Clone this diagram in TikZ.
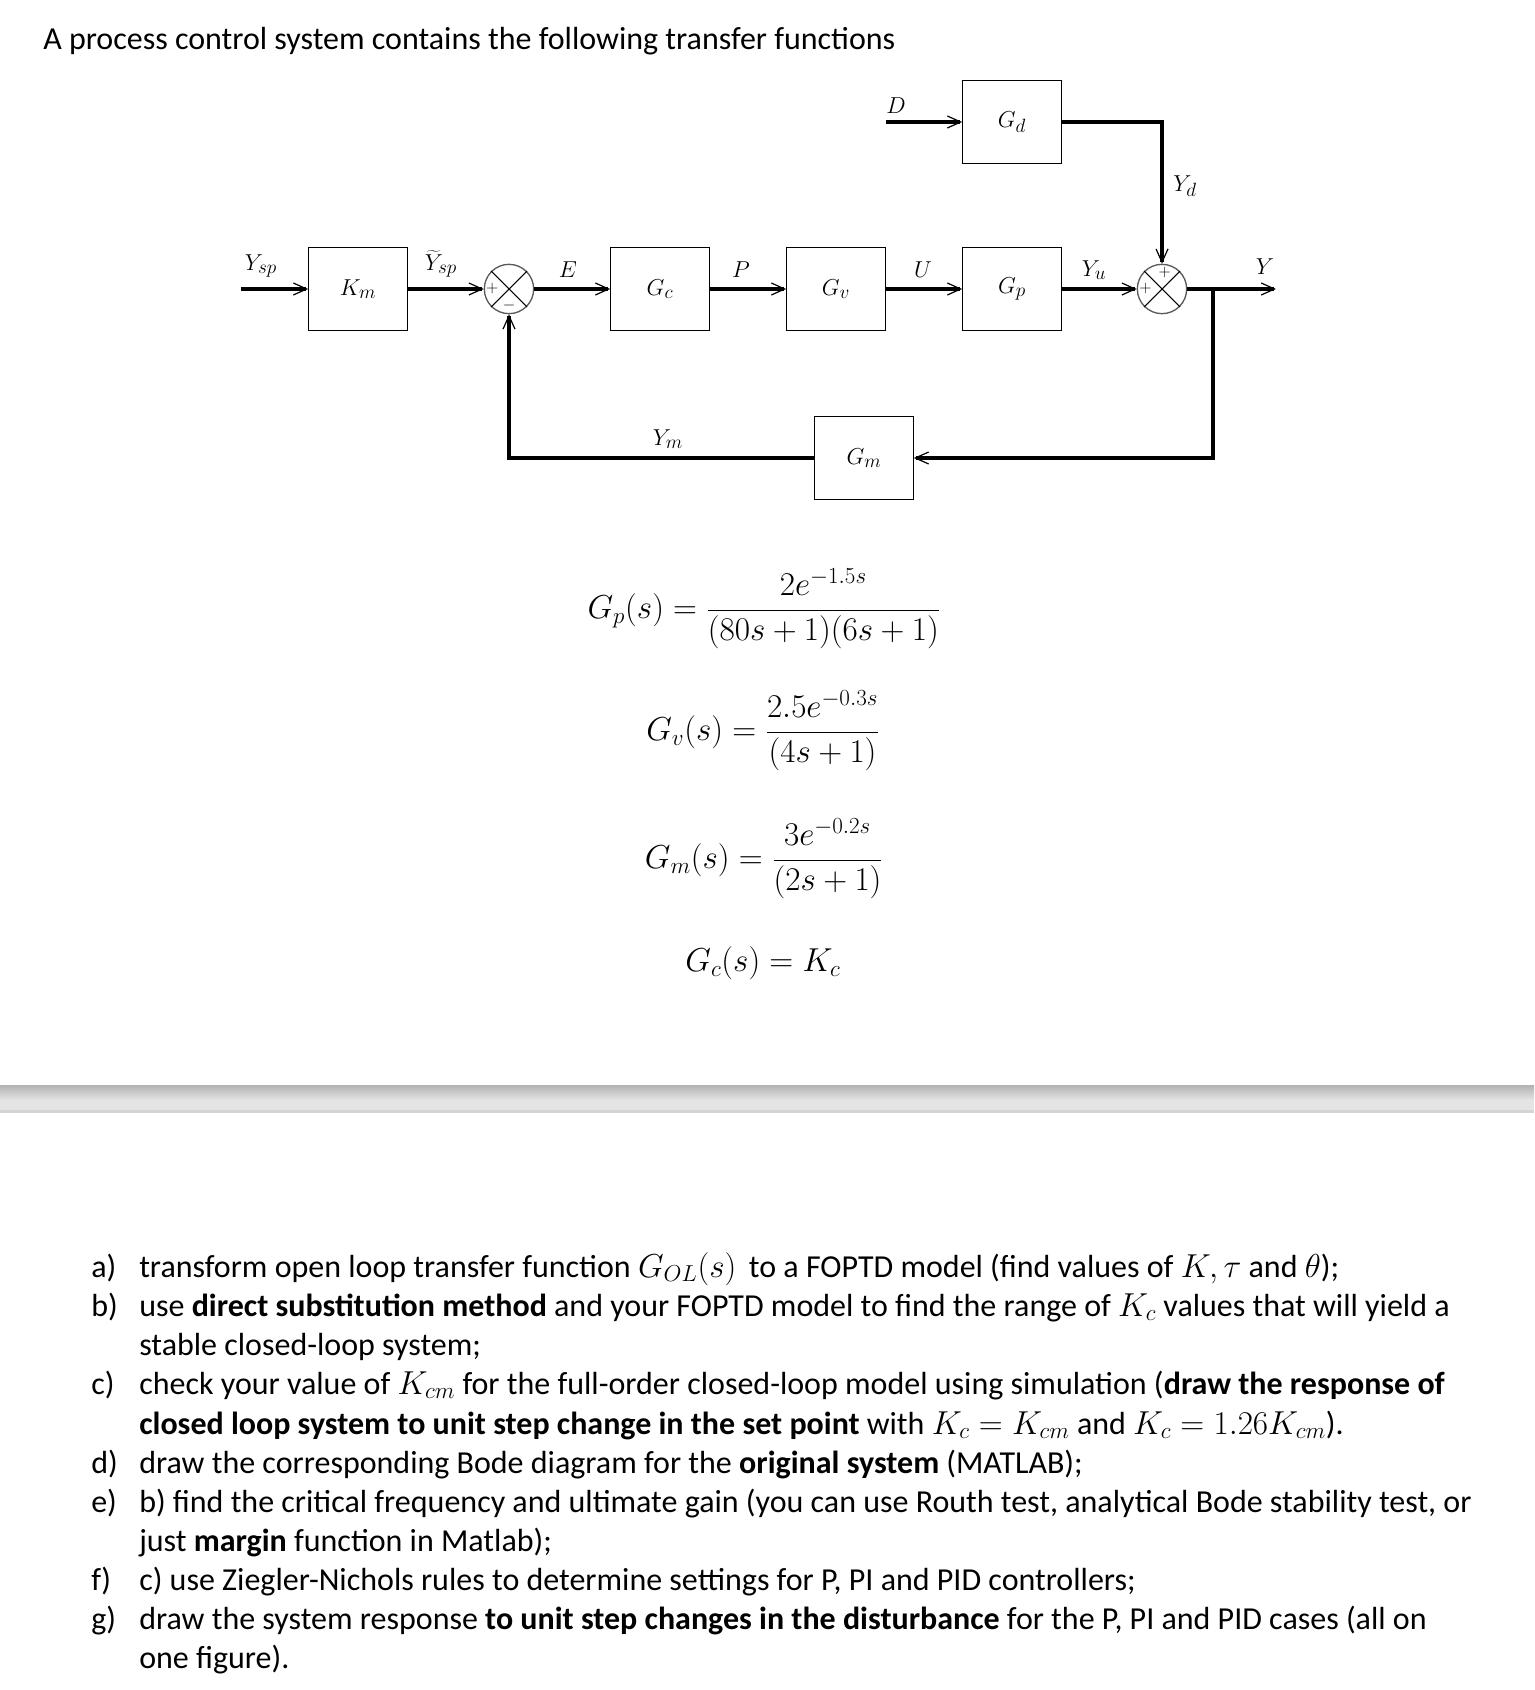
\documentclass[tikz,border=0pt]{standalone}
\usepackage{fontspec}
\setmainfont{Carlito}
\usetikzlibrary{arrows.meta}
\DeclareMathSizes{18}{18}{14}{10}
\definecolor{bandtop}{RGB}{178,178,178}
\definecolor{bandmid}{RGB}{228,228,228}
\definecolor{bandbot}{RGB}{212,212,212}
\definecolor{sumgray}{RGB}{90,90,90}
\begin{document}
\begin{tikzpicture}[x=0.75pt,y=-0.75pt,
  sig/.style={line width=2.3pt, line join=miter, -{Straight Barb[line width=0.9pt,length=10pt,width=9pt]}},
  blk/.style={draw, line width=0.8pt, minimum width=74pt, minimum height=62pt, inner sep=0pt, font=\fontsize{18}{20}\selectfont},
  sumj/.style={circle, draw=sumgray, line width=1pt, minimum size=37pt, inner sep=0pt},
  lab/.style={font=\fontsize{18}{20}\selectfont, inner sep=0pt},
  sgn/.style={font=\fontsize{13}{14}\selectfont, inner sep=0pt},
  txt/.style={font=\fontsize{24}{28}\selectfont, anchor=base west, inner sep=0pt},
  eqn/.style={font=\fontsize{25}{30}\selectfont, inner sep=0pt}
]
\useasboundingbox (0,0) rectangle (1534,1690);

% title
\node[txt] (title) at (43,50) {A process control system contains the following transfer functions};

% blocks
\node[blk] (km) at (358,289) {$K_m$};
\node[blk] (gc) at (660,289) {$G_c$};
\node[blk] (gv) at (836,289) {$G_v$};
\node[blk] (gp) at (1012,289) {$G_p$};
\node[blk] (gd) at (1012,122) {$G_d$};
\node[blk] (gm) at (864,458) {$G_m$};
\node[sumj] (s1) at (509,289) {};
\node[sumj] (s2) at (1162,289) {};
\foreach \s in {s1,s2}{
  \draw[line width=0.8pt] (\s.north west) -- (\s.south east);
  \draw[line width=0.8pt] (\s.north east) -- (\s.south west);
}
\node[sgn] (p1) at ([xshift=6.5pt]s1.west) {$+$};
\node[sgn] (m1) at ([yshift=6.5pt]s1.south) {$-$};
\node[sgn] (p2) at ([xshift=6.5pt]s2.west) {$+$};
\node[sgn] (p3) at ([yshift=-6.5pt,xshift=2pt]s2.north) {$+$};

\coordinate (ysp) at (241,289);
\coordinate (yout) at (1276,289);
\coordinate (din) at (886,122);
\coordinate (br) at (1213,289);

\draw[sig] (ysp) -- (km);
\draw[sig] (km) -- (s1);
\draw[sig] (s1) -- (gc);
\draw[sig] (gc) -- (gv);
\draw[sig] (gv) -- (gp);
\draw[sig] (gp) -- (s2);
\draw[sig] (s2) -- (yout);
\draw[sig] (din) -- (gd);
\draw[sig] (gd) -| (s2);
\draw[sig] (br) |- (gm);
\draw[sig] (gm) -| (s1);

% signal labels
\node[lab] (lysp) at (261,266) {$Y_{sp}$};
\node[lab] (lyspt) at (441,264) {$\widetilde{Y}_{sp}$};
\node[lab] (le) at (568,270) {$E$};
\node[lab] (lp) at (741,270) {$P$};
\node[lab] (lu) at (923,270) {$U$};
\node[lab] (lyu) at (1094,270) {$Y_u$};
\node[lab] (ly) at (1265,267) {$Y$};
\node[lab] (ld) at (896,106) {$D$};
\node[lab] (lyd) at (1185,186) {$Y_d$};
\node[lab] (lym) at (668,439) {$Y_m$};

% equations
\node[eqn] (eqp) at (764,609) {$\displaystyle G_p(s) = \frac{2e^{-1.5s}}{(80s+1)(6s+1)}$};
\node[eqn] (eqv) at (763,731) {$\displaystyle G_v(s) = \frac{2.5e^{-0.3s}}{(4s+1)}$};
\node[eqn] (eqm) at (764,859) {$\displaystyle G_m(s) = \frac{3e^{-0.2s}}{(2s+1)}$};
\node[eqn] (eqc) at (763,963) {$G_c(s) = K_c$};

% separator band
\shade[top color=bandtop, bottom color=bandmid] (0,1085) rectangle (1534,1100);
\fill[bandmid] (0,1100) rectangle (1534,1110);
\fill[bandbot] (0,1110) rectangle (1534,1113);

% questions
\node[txt] (qa) at (91,1277) {a)};
\node[txt] (ta) at (139,1277) {transform open loop transfer function $G_{OL}(s)$\, to a FOPTD model (find values of $K,\tau$ and $\theta$);};
\node[txt] (qb) at (91,1316) {b)};
\node[txt] (tb) at (139,1316) {use \textbf{direct substitution method} and your FOPTD model to find the range of $K_c$ values that will yield a};
\node[txt] (tb2) at (139,1355) {stable closed-loop system;};
\node[txt] (qc) at (91,1394) {c)};
\node[txt] (tc) at (139,1394) {check your value of $K_{cm}$ for the full-order closed-loop model using simulation (\textbf{draw the response of}};
\node[txt] (tc2) at (139,1434) {\textbf{closed loop system to unit step change in the set point} with $K_c=K_{cm}$ and $K_c=1.26K_{cm}$).};
\node[txt] (qd) at (91,1473) {d)};
\node[txt] (td) at (139,1473) {draw the corresponding Bode diagram for the \textbf{original system} (MATLAB);};
\node[txt] (qe) at (91,1512) {e)};
\node[txt] (te) at (139,1512) {b) find the critical frequency and ultimate gain (you can use Routh test, analytical Bode stability test, or};
\node[txt] (te2) at (139,1551) {just \textbf{margin} function in Matlab);};
\node[txt] (qf) at (91,1590) {f)};
\node[txt] (tf) at (139,1590) {c) use Ziegler-Nichols rules to determine settings for P, PI and PID controllers;};
\node[txt] (qg) at (91,1629) {g)};
\node[txt] (tg) at (139,1629) {draw the system response \textbf{to unit step changes in the disturbance} for the P, PI and PID cases (all on};
\node[txt] (tg2) at (139,1668) {one figure).};
\end{tikzpicture}
\end{document}
